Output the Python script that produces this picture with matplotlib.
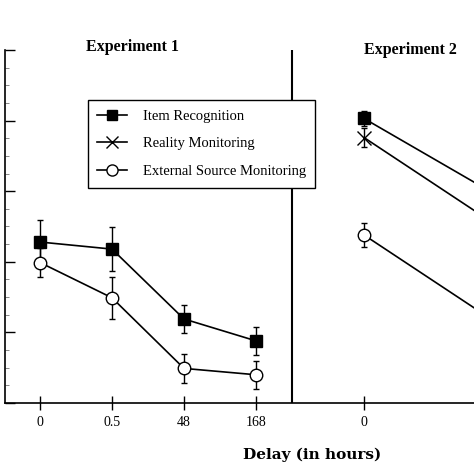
import matplotlib
matplotlib.use("Agg")
import matplotlib.pyplot as plt
import numpy as np
from matplotlib.lines import Line2D

plt.rcParams['font.family'] = ['Liberation Serif', 'DejaVu Serif']

# Data (x positions are category indices)
exp1_x = [0, 1, 2, 3]
exp1_labels = ["0", "0.5", "48", "168"]
exp2_x = [4.5, 6.5]
exp2_labels = ["0", ""]

item1 = [0.728, 0.718, 0.619, 0.588]
item1_err = [0.031, 0.031, 0.020, 0.020]
ext1 = [0.699, 0.649, 0.549, 0.540]
ext1_err = [0.021, 0.030, 0.020, 0.020]

item2 = [0.903, 0.785]
item2_err = [0.011, 0.011]
real2 = [0.876, 0.741]
real2_err = [0.014, 0.014]
ext2 = [0.738, 0.603]
ext2_err = [0.017, 0.017]

fig = plt.figure(figsize=(4.74, 4.74), dpi=100)
W = H = 474
ax = fig.add_axes([5 / W, (H - 403) / H, 469 / W, 353 / H])

lw = 1.2
kw = dict(color='black', lw=lw, capsize=2.5, elinewidth=1.0, capthick=1.0, clip_on=True)
ax.errorbar(exp1_x, item1, yerr=item1_err, marker='s', ms=8, mfc='black', mec='black', **kw)
ax.errorbar(exp1_x, ext1, yerr=ext1_err, marker='o', ms=9, mfc='white', mec='black', mew=1.0, **kw)
ax.errorbar(exp2_x, item2, yerr=item2_err, marker='s', ms=8, mfc='black', mec='black', **kw)
ax.errorbar(exp2_x, real2, yerr=real2_err, marker='x', ms=10, mec='black', mew=1.0, **kw)
ax.errorbar(exp2_x, ext2, yerr=ext2_err, marker='o', ms=9, mfc='white', mec='black', mew=1.0, **kw)

ax.axvline(3.5, color='black', lw=1.5)

ax.set_xlim((5 - 40) / 72, (474 - 40) / 72)
ax.set_ylim(0.5, 1.0)
ax.set_xticks(exp1_x + [4.5])
ax.set_xticklabels(exp1_labels + ["0"], fontsize=10)
ax.set_yticks(np.arange(0.5, 1.01, 0.1))
ax.set_yticklabels([])
ax.set_yticks(np.arange(0.5, 1.0, 0.025), minor=True)
ax.tick_params(axis='x', direction='inout', length=10, width=1.0, pad=4)
ax.tick_params(axis='y', which='major', direction='in', length=7, width=1.0)
ax.tick_params(axis='y', which='minor', direction='in', length=3, width=0.6, color='0.45')

for s in ['top', 'right']:
    ax.spines[s].set_visible(False)
ax.spines['left'].set_linewidth(1.2)
ax.spines['bottom'].set_linewidth(1.2)

fig.text(133 / W, 1 - 47 / H, "Experiment 1", ha='center', va='center',
         fontsize=11.5, fontweight='bold')
fig.text(410 / W, 1 - 50 / H, "Experiment 2", ha='center', va='center',
         fontsize=11.5, fontweight='bold')
fig.text(312 / W, 1 - 455 / H, "Delay (in hours)", ha='center', va='center',
         fontsize=11, fontweight='bold', family='DejaVu Serif')

handles = [
    Line2D([], [], color='black', lw=lw, marker='s', ms=7, mfc='black'),
    Line2D([], [], color='black', lw=lw, marker='x', ms=9, mew=1.0),
    Line2D([], [], color='black', lw=lw, marker='o', ms=8, mfc='white', mew=1.0),
]
leg = ax.legend(handles, ["Item Recognition", "Reality Monitoring", "External Source Monitoring"],
                loc='upper left', bbox_to_anchor=((88 - 5) / 469, (403 - 100) / 353),
                borderaxespad=0,
                frameon=True, fancybox=False, edgecolor='black', fontsize=10.5,
                handlelength=2.0, borderpad=0.65, labelspacing=1.0, handletextpad=1.1,
                framealpha=1)
leg.get_frame().set_linewidth(1.0)

fig.savefig("out.png", dpi=100)
